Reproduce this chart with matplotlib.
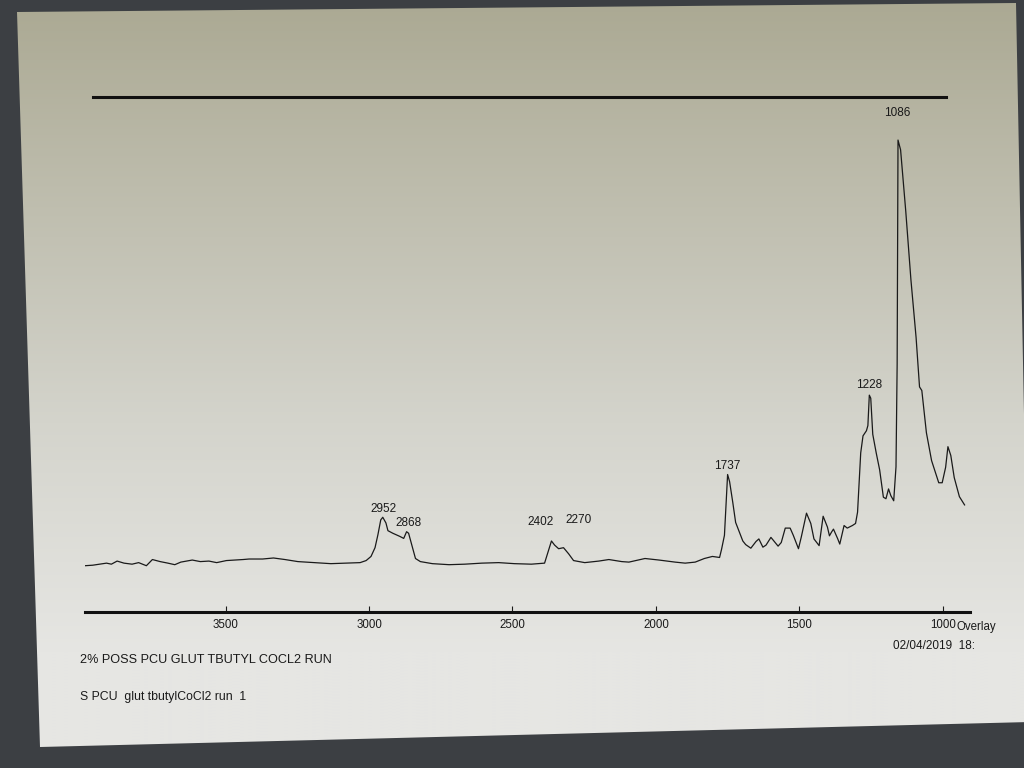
import numpy as np
import matplotlib
matplotlib.use("Agg")
import matplotlib.pyplot as plt
from matplotlib.patches import Polygon
from matplotlib.colors import to_rgb

plt.rcParams['font.family'] = ['Liberation Sans', 'DejaVu Sans']

# spectrum (wavenumber cm-1, height as fraction of frame)
wavenumber = [3990, 3963, 3915, 3898, 3878, 3854, 3826, 3803, 3776, 3755,
              3728, 3701, 3677, 3656, 3616, 3588, 3558, 3531, 3497, 3439,
              3418, 3371, 3333, 3293, 3248, 3191, 3133, 3078, 3031, 3010,
              2993, 2979, 2969, 2959, 2952, 2941, 2934, 2917, 2893, 2879,
              2869, 2862, 2848, 2838, 2821, 2779, 2721, 2666, 2607, 2548,
              2493, 2434, 2388, 2374, 2364, 2353, 2339, 2322, 2304, 2287,
              2248, 2199, 2164, 2119, 2094, 2038, 1989, 1933, 1898, 1863,
              1831, 1803, 1778, 1771, 1761, 1750, 1743, 1732, 1722, 1708,
              1697, 1687, 1669, 1651, 1641, 1627, 1616, 1599, 1574, 1563,
              1549, 1532, 1521, 1503, 1493, 1475, 1460, 1449, 1431, 1417,
              1402, 1395, 1388, 1381, 1366, 1359, 1344, 1333, 1315, 1304,
              1297, 1286, 1278, 1266, 1261, 1256, 1251, 1244, 1232, 1220,
              1207, 1198, 1189, 1181, 1171, 1163, 1159, 1156, 1147, 1129,
              1111, 1093, 1081, 1073, 1057, 1039, 1014, 1002, 990, 982,
              972, 960, 942, 924]
absorb = [0.090, 0.091, 0.095, 0.093, 0.099, 0.095, 0.093, 0.096, 0.090, 0.102,
          0.098, 0.095, 0.092, 0.097, 0.101, 0.098, 0.099, 0.096, 0.100, 0.102,
          0.103, 0.103, 0.105, 0.102, 0.098, 0.096, 0.094, 0.095, 0.096, 0.100,
          0.108, 0.125, 0.150, 0.179, 0.184, 0.173, 0.158, 0.153, 0.147, 0.143,
          0.156, 0.153, 0.124, 0.104, 0.098, 0.094, 0.092, 0.093, 0.095, 0.096,
          0.094, 0.093, 0.095, 0.120, 0.138, 0.130, 0.123, 0.125, 0.113, 0.100,
          0.096, 0.099, 0.102, 0.098, 0.097, 0.104, 0.101, 0.097, 0.095, 0.097,
          0.104, 0.108, 0.106, 0.122, 0.149, 0.267, 0.253, 0.213, 0.174, 0.154,
          0.138, 0.131, 0.124, 0.137, 0.142, 0.126, 0.130, 0.145, 0.128, 0.135,
          0.163, 0.163, 0.149, 0.123, 0.146, 0.192, 0.172, 0.142, 0.129, 0.186,
          0.165, 0.148, 0.155, 0.161, 0.142, 0.132, 0.168, 0.163, 0.168, 0.172,
          0.194, 0.309, 0.342, 0.352, 0.362, 0.421, 0.415, 0.345, 0.309, 0.276,
          0.223, 0.220, 0.239, 0.226, 0.216, 0.282, 0.481, 0.916, 0.897, 0.778,
          0.645, 0.533, 0.437, 0.430, 0.348, 0.294, 0.251, 0.251, 0.281, 0.321,
          0.304, 0.261, 0.224, 0.208]

# peak labels as printed
peak_text = ["2952", "2868", "2402", "2270", "1737", "1228", "1086"]
peak_x = [2950, 2862, 2401, 2270, 1750, 1257, 1160]
peak_y = [0.200, 0.173, 0.174, 0.179, 0.284, 0.440, 0.969]

tick_pos = [3500, 3000, 2500, 2000, 1500, 1000]
tick_lab = ["3500", "3000", "2500", "2000", "1500", "1000"]

caption1 = "2% POSS PCU GLUT TBUTYL COCL2 RUN"
caption2 = "S PCU  glut tbutylCoCl2 run  1"
date_txt = "02/04/2019  18:"

fig = plt.figure(figsize=(10.24, 7.68), dpi=100)
fig.patch.set_facecolor('#3c3f43')

# paper sheet behind the plot
bg = fig.add_axes([0, 0, 1, 1])
bg.set_xlim(0, 1024)
bg.set_ylim(768, 0)
bg.axis('off')
top_c = np.array(to_rgb('#aba993'))
mid_c = np.array(to_rgb('#d4d4cc'))
bot_c = np.array(to_rgb('#e6e6e3'))
t = np.linspace(0, 1, 256)
rows = []
for v in t:
    if v < 0.55:
        c = top_c + (mid_c - top_c) * (v / 0.55)
    else:
        c = mid_c + (bot_c - mid_c) * min(1, (v - 0.55) / 0.3)
    rows.append(c)
grad = np.array(rows)[:, None, :]
im = bg.imshow(grad, extent=(0, 1024, 768, 0), aspect='auto', zorder=0)
paper = Polygon([(17, 12), (1016, 3), (1030, 722), (40, 747)], closed=True,
                transform=bg.transData, facecolor='none', edgecolor='none')
bg.add_patch(paper)
im.set_clip_path(paper)

ax = fig.add_axes([0.083, 0.203, 0.864, 0.671])
ax.patch.set_alpha(0)
ax.plot(wavenumber, absorb, color='#1a1a1a', lw=0.9)
ax.set_xlim(3990, 906)
ax.set_ylim(0, 1)

for s in ['left', 'right', 'top']:
    ax.spines[s].set_visible(False)
ax.spines['bottom'].set_linewidth(2.2)
ax.spines['bottom'].set_color('#111111')
ax.axhline(1.0, xmin=0.009, xmax=0.973, color='#111111', lw=2.2, clip_on=False)

ax.set_yticks([])
ax.set_xticks(tick_pos)
ax.set_xticklabels(tick_lab)
ax.tick_params(axis='x', direction='in', length=4, width=0.8, pad=5,
               labelsize=8.3, colors='#1a1a1a')

for txt, x, y in zip(peak_text, peak_x, peak_y):
    ax.text(x, y, txt, ha='center', va='center', fontsize=8.5, color='#1a1a1a')

# "Overlay" sits right after the 1000 label on the same line
ax.annotate("Overlay", xy=(1000, 0), xycoords=('data', 'axes fraction'),
            xytext=(10, -11), textcoords='offset points', ha='left', va='center',
            fontsize=8.3, color='#1a1a1a', annotation_clip=False)

fig.text(0.078, 0.141, caption1, fontsize=9.1, color='#1a1a1a', va='center')
fig.text(0.078, 0.092, caption2, fontsize=8.8, color='#1a1a1a', va='center')
fig.text(0.872, 0.159, date_txt, fontsize=8.5, color='#1a1a1a', va='center')

fig.savefig("out.png", dpi=100, facecolor=fig.get_facecolor())
